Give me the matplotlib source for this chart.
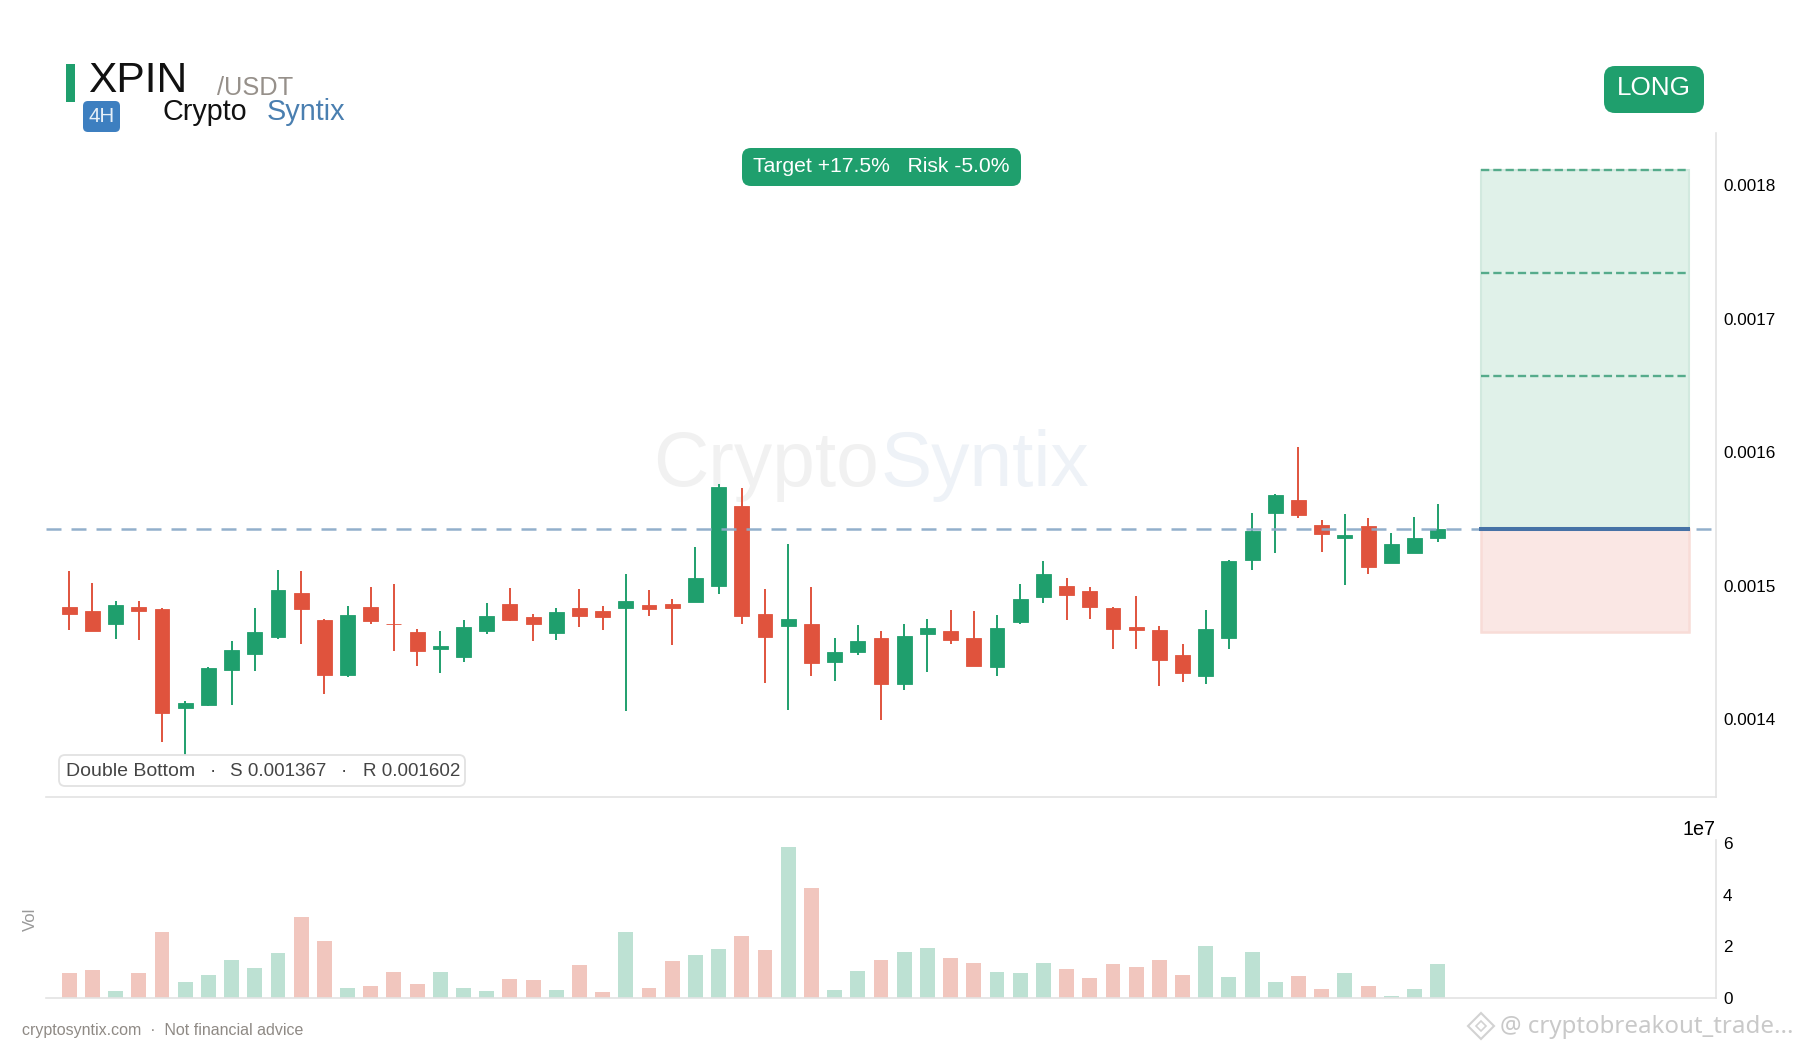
import numpy as np
import matplotlib
matplotlib.use('Agg')
import matplotlib.pyplot as plt
from matplotlib.patches import FancyBboxPatch, Rectangle
from matplotlib.lines import Line2D
from matplotlib.ticker import FormatStrFormatter, ScalarFormatter
from matplotlib.transforms import Affine2D

plt.rcParams['font.family'] = ['Liberation Sans', 'DejaVu Sans']

# Candles, prices in millionths of USDT
opens = [1484.1, 1481.1, 1470.9, 1484.1, 1482.6, 1408.4, 1410.7, 1436.4, 1448.4, 1461.6,
         1494.6, 1474.4, 1433.2, 1484.1, 1471.4, 1465.4, 1452.6, 1446.6, 1466.1, 1486.3,
         1476.6, 1464.6, 1483.4, 1481.1, 1483.4, 1485.6, 1486.3, 1487.8, 1499.8, 1559.8,
         1478.9, 1469.9, 1471.4, 1442.9, 1450.4, 1460.9, 1426.4, 1463.9, 1466.1, 1460.9,
         1439.2, 1472.9, 1491.6, 1499.8, 1496.1, 1483.4, 1469.1, 1466.9, 1448.2, 1432.4,
         1460.9, 1519.3, 1554.5, 1564.3, 1545.5, 1535.8, 1544.8, 1517.1, 1524.6, 1535.8]
closes = [1478.9, 1465.6, 1485.6, 1481.1, 1404.2, 1412.2, 1438.4, 1451.9, 1465.4, 1496.8,
          1482.6, 1433.2, 1478.1, 1473.6, 1470.9, 1451.1, 1454.9, 1469.1, 1477.4, 1474.4,
          1471.4, 1480.4, 1477.4, 1476.6, 1488.6, 1482.6, 1483.4, 1505.8, 1574.0, 1477.4,
          1461.6, 1475.1, 1442.2, 1450.4, 1458.6, 1426.4, 1462.4, 1468.4, 1459.4, 1439.9,
          1468.4, 1490.1, 1508.8, 1493.1, 1484.1, 1467.6, 1466.9, 1444.4, 1434.7, 1467.6,
          1518.6, 1541.0, 1568.0, 1553.0, 1538.8, 1538.1, 1514.1, 1531.3, 1535.8, 1542.5]
highs = [1511.1, 1501.8, 1488.3, 1488.3, 1483.1, 1413.7, 1439.2, 1458.4, 1483.4, 1511.8,
         1511.1, 1474.9, 1484.9, 1499.3, 1501.3, 1467.6, 1466.1, 1474.4, 1487.1, 1498.3,
         1478.9, 1483.4, 1497.6, 1484.9, 1508.8, 1496.8, 1490.1, 1529.0, 1576.2, 1573.2,
         1497.6, 1531.3, 1499.1, 1460.9, 1470.6, 1466.1, 1471.4, 1475.1, 1481.9, 1481.1,
         1478.1, 1501.3, 1518.6, 1505.8, 1499.1, 1484.1, 1492.4, 1469.9, 1456.4, 1481.9,
         1519.3, 1554.5, 1568.8, 1604.0, 1549.3, 1553.8, 1550.8, 1539.6, 1551.5, 1561.3]
lows = [1466.9, 1465.6, 1460.1, 1459.4, 1382.5, 1367.0, 1409.9, 1410.7, 1435.7, 1460.1,
        1456.4, 1418.9, 1431.4, 1471.4, 1451.1, 1439.9, 1434.7, 1443.1, 1463.9, 1473.6,
        1458.6, 1459.4, 1469.1, 1466.9, 1406.2, 1477.4, 1455.6, 1487.8, 1493.8, 1471.4,
        1427.2, 1407.0, 1432.4, 1428.7, 1448.2, 1399.5, 1421.9, 1435.4, 1456.4, 1439.9,
        1432.4, 1471.4, 1487.1, 1474.4, 1475.1, 1452.6, 1452.6, 1424.9, 1427.9, 1426.4,
        1452.6, 1511.8, 1524.6, 1550.8, 1525.3, 1500.6, 1508.8, 1517.1, 1524.6, 1532.8]
volumes = [0.96e7, 1.08e7, 0.26e7, 0.96e7, 2.56e7, 0.61e7, 0.88e7, 1.47e7, 1.15e7, 1.74e7,
           3.14e7, 2.20e7, 0.38e7, 0.45e7, 1.00e7, 0.53e7, 1.00e7, 0.38e7, 0.26e7, 0.73e7,
           0.69e7, 0.30e7, 1.27e7, 0.22e7, 2.56e7, 0.38e7, 1.43e7, 1.66e7, 1.89e7, 2.40e7,
           1.85e7, 5.84e7, 4.27e7, 0.30e7, 1.04e7, 1.47e7, 1.78e7, 1.93e7, 1.54e7, 1.35e7,
           1.00e7, 0.96e7, 1.35e7, 1.12e7, 0.77e7, 1.31e7, 1.19e7, 1.47e7, 0.88e7, 2.01e7,
           0.80e7, 1.78e7, 0.61e7, 0.84e7, 0.34e7, 0.96e7, 0.45e7, 0.06e7, 0.34e7, 1.31e7]

# Trade levels
entry = 0.001542
stop = 0.001465
targets = [0.001657, 0.001734, 0.001811]

GREEN = '#1f9f6d'
RED = '#e0533d'
BLUE = '#3d7fc0'

fig = plt.figure(figsize=(18, 10.5), dpi=100, facecolor='white')
W, H = 1800, 1050
px = Affine2D().scale(1, -1).translate(0, H)  # top-left pixel coordinates


def axes_at(left, top, right, bottom):
    return fig.add_axes([left / W, 1 - bottom / H, (right - left) / W, (bottom - top) / H])


def clean_axes(ax):
    ax.spines['top'].set_visible(False)
    ax.spines['left'].set_visible(False)
    for side in ['right', 'bottom']:
        ax.spines[side].set_color('#e3e3e3')
        ax.spines[side].set_linewidth(1.2)
    ax.yaxis.tick_right()
    ax.tick_params(axis='y', length=0, labelsize=12.3, pad=5)
    ax.tick_params(axis='x', length=0, labelbottom=False)
    ax.set_xlim(-1, 71)


ax = axes_at(46, 133, 1716, 796.5)
ax_vol = axes_at(46, 839.5, 1716, 997.5)
clean_axes(ax)
clean_axes(ax_vol)

o = np.array(opens) / 1e6
c = np.array(closes) / 1e6
h = np.array(highs) / 1e6
l = np.array(lows) / 1e6
x = np.arange(len(o))
colors = [GREEN if c[i] >= o[i] else RED for i in x]
vol_colors = ['#bde1d3' if c[i] >= o[i] else '#f1c6be' for i in x]

# Candles
ax.vlines(x, l, h, colors=colors, linewidth=1.4, zorder=3)
ax.bar(x, np.abs(c - o), bottom=np.minimum(o, c), width=0.64, color=colors,
       edgecolor=colors, linewidth=0.6, zorder=4)

# Long setup zones
zone_left, zone_right = 60.85, 69.85
ax.add_patch(Rectangle((zone_left, entry), zone_right - zone_left, targets[-1] - entry,
                       facecolor='#e0f1e9', edgecolor='#d2e9df', linewidth=1.5, zorder=1))
ax.add_patch(Rectangle((zone_left, stop), zone_right - zone_left, entry - stop,
                       facecolor='#fae7e4', edgecolor='#f8dcd7', linewidth=1.8, zorder=1))
ax.hlines(targets, zone_left, zone_right, colors='#55ab8b', linestyles=(0, (3.5, 1.7)),
          linewidth=1.7, zorder=2)
ax.axhline(entry, color='#8cabc9', linestyle=(0, (6, 4)), linewidth=1.8, alpha=0.95, zorder=5)
ax.hlines(entry, zone_left - 0.05, zone_right + 0.05, colors='#4672a6', linewidth=2.9, zorder=6)

ax.set_ylim(0.001342, 0.001839)
ax.set_yticks([0.0014, 0.0015, 0.0016, 0.0017, 0.0018])
ax.yaxis.set_major_formatter(FormatStrFormatter('%.4f'))

# Watermark
ax.text(0.3636, 0.4687, 'Crypto', transform=ax.transAxes, fontsize=55.2, color='#f1f1f1',
        va='baseline', ha='left', zorder=0)
ax.text(0.4995, 0.4687, 'Syntix', transform=ax.transAxes, fontsize=55.2, color='#eef2f7',
        va='baseline', ha='left', zorder=0)

# Volume
ax_vol.bar(x, volumes, width=0.64, color=vol_colors, linewidth=0)
ax_vol.set_ylim(0, 6.14e7)
ax_vol.set_yticks([0, 2e7, 4e7, 6e7])
fmt = ScalarFormatter(useMathText=False)
fmt.set_powerlimits((0, 0))
ax_vol.yaxis.set_major_formatter(fmt)
ax_vol.yaxis.get_offset_text().set_fontsize(14.2)


def ftext(px_x, px_y, s, **kw):
    return fig.text(px_x / W, 1 - px_y / H, s, **kw)


def badge(left, top, right, bottom, color, radius=6, **kw):
    fig.add_artist(FancyBboxPatch((left + radius, top + radius), right - left - 2 * radius,
                                  bottom - top - 2 * radius,
                                  boxstyle='round,pad=%d,rounding_size=%d' % (radius, radius),
                                  facecolor=color, transform=px, zorder=5, **kw))


# Header
fig.add_artist(Rectangle((66, 64), 9, 38, facecolor=GREEN, transform=px, zorder=5))
ftext(88, 92, 'XPIN', fontsize=30.6, color='#111111', va='baseline')
ftext(217, 95, '/USDT', fontsize=18.3, color='#96908a', va='baseline')
badge(83, 101, 120, 132, BLUE, radius=5, edgecolor='none')
ftext(101.5, 116.5, '4H', fontsize=14.8, color='#e6f0f8', ha='center', va='center', zorder=6)
ftext(163, 120, 'Crypto', fontsize=20.7, color='#111111', va='baseline')
ftext(267, 120, 'Syntix', fontsize=20.8, color='#4a7fb0', va='baseline')

badge(1604, 66, 1704, 113, GREEN, radius=11, edgecolor='none')
ftext(1654, 88, 'LONG', fontsize=18.8, color='white', ha='center', va='center', zorder=6)

badge(742, 148, 1021, 186, GREEN, radius=9, edgecolor='none')
ftext(881, 166.5, 'Target +17.5%   Risk -5.0%', fontsize=15.2, color='white',
      ha='center', va='center', zorder=6)

# Pattern label
badge(59, 755, 465, 786, 'white', radius=6, edgecolor='#e2e2e2', linewidth=1.3)
label_parts = ['Double Bottom', '\u00b7', 'S 0.001367', '\u00b7', 'R 0.001602']
label_x = [66, 210, 229.6, 341, 363]
label_sizes = [14, 13.7, 13.5, 13.7, 13.5]
for part, part_x, size in zip(label_parts, label_x, label_sizes):
    ftext(part_x, 771, part, fontsize=size, color='#444444', va='center', zorder=6)

# Footer and side labels
ftext(30, 919, 'Vol', fontsize=12, color='#999999', rotation=90, ha='center', va='center')
ftext(22, 1030, 'cryptosyntix.com  \u00b7  Not financial advice', fontsize=11.5,
      color='#8f8a85', va='center')
for size, edge_width in [(13, 1.5), (5, 1.2)]:
    fig.add_artist(Line2D([1481], [1026], marker='D', markersize=size, markerfacecolor='none',
                          markeredgecolor='#d2d2d2', markeredgewidth=edge_width, transform=px))
ftext(1500, 1027, '@ cryptobreakout_trade...', fontsize=17.3, color='#c9c9c9', va='center',
      family='Noto Sans')

fig.savefig('out.png', dpi=100, facecolor='white')
